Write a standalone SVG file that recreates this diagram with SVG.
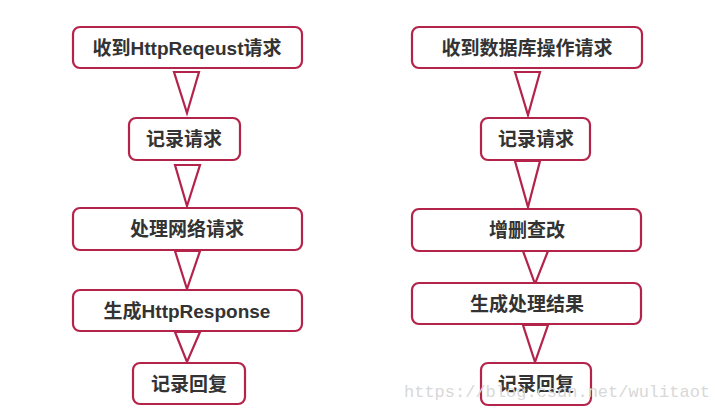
<svg xmlns="http://www.w3.org/2000/svg" width="715" height="412" viewBox="0 0 715 412">
<style>
.b{fill:#fff;stroke:#b3234a;stroke-width:2.2}
.t{font-family:"Liberation Sans","Noto Sans CJK SC",sans-serif;font-size:19px;font-weight:bold;fill:#333;text-anchor:middle;dominant-baseline:central}
.w{font-family:"Liberation Mono","DejaVu Sans Mono",monospace;font-size:17px;fill:#d8d8d8}
</style>
<rect width="715" height="412" fill="#fff"/>
<g id="connectors">
<polygon class="b" points="174,72 199,72 187,113"/>
<polygon class="b" points="175,165 200,165 187,206"/>
<polygon class="b" points="175,251 200,251 187,289"/>
<polygon class="b" points="175,332 200,332 187,362"/>
<polygon class="b" points="515,72 540,72 528,115"/>
<polygon class="b" points="515,161 540,161 528,207"/>
<polygon class="b" points="523,251 548,251 535,284"/>
<polygon class="b" points="523,325 548,325 535,362"/>
</g>
<g id="l1"><rect class="b" x="73" y="27" width="229" height="41" rx="7"/><text class="t" x="187" y="48">收到HttpReqeust请求</text></g>
<g id="l2"><rect class="b" x="129" y="118" width="111" height="42" rx="7"/><text class="t" x="184" y="139">记录请求</text></g>
<g id="l3"><rect class="b" x="73" y="208" width="229" height="42" rx="7"/><text class="t" x="187" y="229">处理网络请求</text></g>
<g id="l4"><rect class="b" x="73" y="290" width="229" height="41" rx="7"/><text class="t" x="187" y="311">生成HttpResponse</text></g>
<g id="l5"><rect class="b" x="133" y="363" width="112" height="41" rx="7"/><text class="t" x="189" y="384">记录回复</text></g>
<g id="r1"><rect class="b" x="412" y="27" width="230" height="41" rx="7"/><text class="t" x="527" y="48">收到数据库操作请求</text></g>
<g id="r2"><rect class="b" x="481" y="118" width="109" height="42" rx="7"/><text class="t" x="536" y="139">记录请求</text></g>
<g id="r3"><rect class="b" x="412" y="209" width="229" height="42" rx="7"/><text class="t" x="527" y="230">增删查改</text></g>
<g id="r4"><rect class="b" x="412" y="283" width="229" height="41" rx="7"/><text class="t" x="527" y="304">生成处理结果</text></g>
<g id="r5"><rect class="b" x="481" y="363" width="110" height="42" rx="7"/><text class="t" x="536" y="384">记录回复</text></g>
<text class="w" x="404" y="397">https://blog.csdn.net/wulitaot</text>
</svg>
